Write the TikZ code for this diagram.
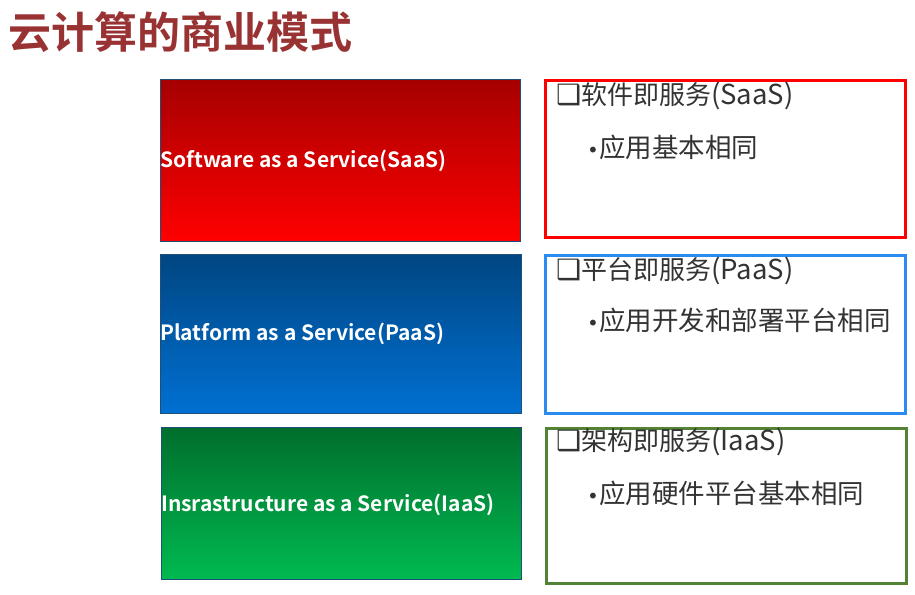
\documentclass[tikz,border=0pt]{standalone}
\usepackage{fontspec}
\setmainfont{Noto Sans CJK SC}
\newfontfamily\cjkbold{Noto Sans CJK SC Bold}
\newfontfamily\symfont{DejaVu Sans}
\newcommand{\latpart}[1]{{\fontsize{27.5}{30}\selectfont #1}}
\newcommand{\boxsym}{{\symfont\fontsize{28}{30}\selectfont ❑}}
\newcommand{\bulsym}{{\symfont\fontsize{20}{22}\selectfont •}}
\definecolor{titlered}{HTML}{993333}
\definecolor{txtgray}{HTML}{333333}
\definecolor{edgeblue}{HTML}{1F4E79}
\definecolor{rbred}{HTML}{FF0000}
\definecolor{rbblue}{HTML}{2A8CF0}
\definecolor{rbgreen}{HTML}{548235}
\begin{document}
\begin{tikzpicture}[x=1pt,y=-1pt]
\tikzset{
  leftbox/.style={draw=edgeblue, line width=0.8pt, anchor=north west, inner sep=0pt},
  rightbox/.style={line width=3pt, anchor=north west, fill=white, inner sep=0pt},
  lefttext/.style={anchor=west, inner sep=0pt, text=white, font=\cjkbold\fontsize{21}{24}\selectfont},
  headtext/.style={anchor=base west, inner sep=0pt, text=txtgray, font=\fontsize{26}{30}\selectfont},
  itemtext/.style={anchor=base west, inner sep=0pt, text=txtgray, font=\fontsize{26.5}{31}\selectfont},
}
\useasboundingbox (0,0) rectangle (915,594);
\node[anchor=north west, inner sep=0pt, text=titlered, font=\cjkbold\fontsize{43}{47}\selectfont] (title) at (8,11) {云计算的商业模式};

% left boxes
\node[leftbox, minimum width=360, minimum height=162, top color=black!35!red, bottom color=red] (saas) at (160,79) {};
\node[leftbox, minimum width=361, minimum height=159, top color={rgb,255:red,0;green,70;blue,130}, bottom color={rgb,255:red,0;green,112;blue,210}] (paas) at (160,254) {};
\node[leftbox, minimum width=360, minimum height=152, top color={rgb,255:red,0;green,110;blue,45}, bottom color={rgb,255:red,0;green,186;blue,80}] (iaas) at (161,427) {};
\node[lefttext] (saast) at (saas.west) {Software as a Service(SaaS)};
\node[lefttext] (paast) at (paas.west) {Platform as a Service(PaaS)};
\node[lefttext] (iaast) at ([yshift=-1]iaas.west) {Insrastructure as a Service(IaaS)};

% right boxes
\node[rightbox, draw=rbred, minimum width=360, minimum height=157] (rsaas) at (544,79) {};
\node[rightbox, draw=rbblue, minimum width=360, minimum height=158] (rpaas) at (544,254) {};
\node[rightbox, draw=rbgreen, minimum width=360, minimum height=155] (riaas) at (545,427) {};

\node[headtext] (h1) at (556,104) {\boxsym 软件即服务\latpart{(SaaS)}};
\node[itemtext] (i1) at (587,157) {\bulsym 应用基本相同};
\node[headtext] (h2) at (556,279) {\boxsym 平台即服务\latpart{(PaaS)}};
\node[itemtext] (i2) at (587,330) {\bulsym 应用开发和部署平台相同};
\node[headtext] (h3) at (556,450) {\boxsym 架构即服务\latpart{(IaaS)}};
\node[itemtext] (i3) at (587,503) {\bulsym 应用硬件平台基本相同};
\end{tikzpicture}
\end{document}
